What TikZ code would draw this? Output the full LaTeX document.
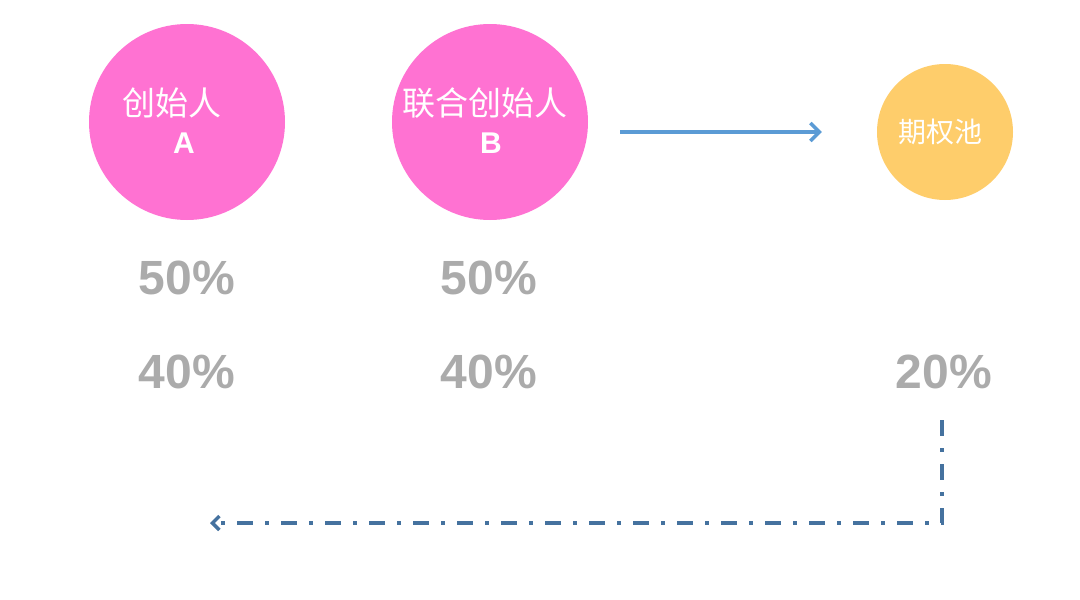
\documentclass[tikz,border=0pt]{standalone}
\usepackage{fontspec}
\setmainfont{Liberation Sans}
\newfontfamily\cjk{Noto Sans CJK SC}
\usetikzlibrary{arrows.meta}
\definecolor{founderpink}{HTML}{FF72D2}
\definecolor{poolorange}{HTML}{FECD6B}
\definecolor{sharegray}{HTML}{ABABAB}
\definecolor{arrowblue}{HTML}{5B9BD5}
\definecolor{flowblue}{HTML}{45729F}
\begin{document}
\begin{tikzpicture}[x=1pt,y=-1pt,
    person/.style={circle,fill=founderpink,minimum size=196pt,inner sep=0pt},
    share/.style={text=sharegray,font=\fontsize{48}{48}\selectfont\bfseries,inner sep=0pt},
    role/.style={text=white,font=\fontsize{33}{33}\selectfont\cjk,inner sep=0pt},
    initial/.style={text=white,font=\fontsize{30}{30}\selectfont\bfseries,inner sep=0pt}]
    \useasboundingbox (0,0) rectangle (1080,600);
    % the two founders
    \node[person] (founderA) at (187,122) {};
    \node[person] (founderB) at (490,122) {};
    \node[role] (roleA) at (172,103) {创始人};
    \node[initial] (initialA) at (184,143) {A};
    \node[role] (roleB) at (485,103) {联合创始人};
    \node[initial] (initialB) at (491,143) {B};

    % the option pool
    \node[circle,fill=poolorange,minimum size=136pt,inner sep=0pt] (pool) at (945,132) {};
    \node[role,font=\fontsize{28}{28}\selectfont\cjk] (rolePool) at (940,132) {期权池};

    % shares before and after
    \node[share] (beforeA) at (187,278) {50\%};
    \node[share] (beforeB) at (489,278) {50\%};
    \node[share] (afterA) at (187,372) {40\%};
    \node[share] (afterB) at (489,372) {40\%};
    \node[share] (afterPool) at (944,372) {20\%};

    % arrows
    \draw[arrowblue,line width=3.5pt,-{Straight Barb[length=9pt,width=18pt]}]
        ([xshift=32pt]founderB.east |- pool.west) -- ([xshift=-55pt]pool.west);
    \coordinate (back) at (210,523);
    \draw[flowblue,line width=3.5pt,dash pattern=on 16pt off 12pt on 4pt off 12pt,
        -{Straight Barb[length=7pt,width=14pt]}]
        ([xshift=-2pt,yshift=-31pt]afterPool.south) |- (back);
\end{tikzpicture}
\end{document}
